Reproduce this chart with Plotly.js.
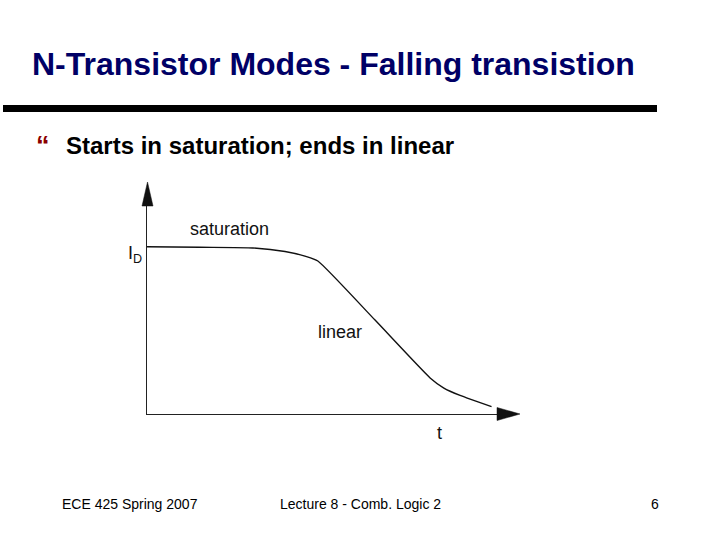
<!DOCTYPE html>
<html>
<head>
<meta charset="utf-8">
<script src="https://cdn.plot.ly/plotly-3.0.1.min.js"></script>
<style>html,body{margin:0;padding:0;background:#fff;}#chart{width:720px;height:540px;}</style>
</head>
<body>
<div id="chart"></div>
<script>
// Data (arbitrary units: time t, drain current I_D)
const timeValues = [0, 1.5, 3.0, 3.91, 4.52, 4.84, 6.46, 8.02, 8.41, 8.87, 9.76];
const currentValues = [7.93, 7.9, 7.87, 7.7, 7.46, 7.25, 4.45, 1.71, 1.23, 0.88, 0.35];
const regionLabels = ["saturation", "linear"];
const regionLabelT = [1.17, 4.79];
const regionLabelI = [8.75, 3.9];
const slideTitle = "N-Transistor Modes - Falling transistion";
const bulletText = "Starts in saturation; ends in linear";
const footerTexts = ["ECE 425 Spring 2007", "Lecture 8 - Comb. Logic 2", "6"];

// layout geometry
const W = 720, H = 540;
const M = {l: 147, r: 220, t: 203, b: 126};
const PW = W - M.l - M.r, PH = H - M.t - M.b;
const px = x => (x - M.l) / PW;
const py = y => (H - M.b - y) / PH;

const FONT = "Liberation Sans, Arial, sans-serif";

const trace = {
  x: timeValues, y: currentValues, type: "scatter", mode: "lines",
  line: {color: "#111", width: 1.4, shape: "spline", smoothing: 0.5},
  hoverinfo: "skip", showlegend: false
};

function txt(text, x, y, size, opts) {
  return Object.assign({
    text: text, xref: "paper", yref: "paper", x: px(x), y: py(y),
    xanchor: "left", yanchor: "middle", showarrow: false,
    font: {family: FONT, size: size, color: "#000"}
  }, opts || {});
}

const annotations = [
  txt("<b>" + slideTitle + "</b>", 333, 64, 32, {xanchor: "center", font: {family: FONT, size: 32, color: "#000066"}}),
  txt("<b>“</b>", 34, 146, 27, {font: {family: FONT, size: 27, color: "#8b0000"}}),
  txt("<b>" + bulletText + "</b>", 64, 145, 24),
  txt(footerTexts[0], 60, 504, 14),
  txt(footerTexts[1], 278, 504, 14),
  txt(footerTexts[2], 649, 504, 14),
  txt("I<sub>D</sub>", 126, 254, 18, {font: {family: FONT, size: 18, color: "#111"}}),
  txt("t", 435, 433, 18, {font: {family: FONT, size: 18, color: "#111"}}),
  {text: regionLabels[0], x: regionLabelT[0], y: regionLabelI[0], xref: "x", yref: "y",
   xanchor: "left", yanchor: "middle", showarrow: false, font: {family: FONT, size: 18, color: "#111"}},
  {text: regionLabels[1], x: regionLabelT[1], y: regionLabelI[1], xref: "x", yref: "y",
   xanchor: "left", yanchor: "middle", showarrow: false, font: {family: FONT, size: 18, color: "#111"}}
];

function pathPx(pts) {
  return "M " + pts.map(p => px(p[0]) + "," + py(p[1])).join(" L ") + " Z";
}

const shapes = [
  // black rule under title
  {type: "rect", xref: "paper", yref: "paper", x0: px(3), x1: px(657), y0: py(112), y1: py(105),
   fillcolor: "#000", line: {width: 0}},
  // y-axis arrowhead
  {type: "path", xref: "paper", yref: "paper", path: pathPx([[147.5, 182], [142, 206], [153, 206]]),
   fillcolor: "#111", line: {color: "#111", width: 0.5}},
  // x-axis arrowhead
  {type: "path", xref: "paper", yref: "paper", path: pathPx([[520, 414], [497, 407.5], [497, 420.5]]),
   fillcolor: "#111", line: {color: "#111", width: 0.5}}
];

const axisCommon = {
  showgrid: false, zeroline: false, showticklabels: false, ticks: "",
  showline: true, linecolor: "#222", linewidth: 1, fixedrange: true
};

const layout = {
  width: W, height: H, margin: M,
  paper_bgcolor: "#fff", plot_bgcolor: "#fff",
  showlegend: false,
  xaxis: Object.assign({range: [0, 10]}, axisCommon),
  yaxis: Object.assign({range: [0, 10]}, axisCommon),
  annotations: annotations, shapes: shapes,
  font: {family: FONT}
};

Plotly.newPlot("chart", [trace], layout, {staticPlot: true, displayModeBar: false});
</script>
</body>
</html>
